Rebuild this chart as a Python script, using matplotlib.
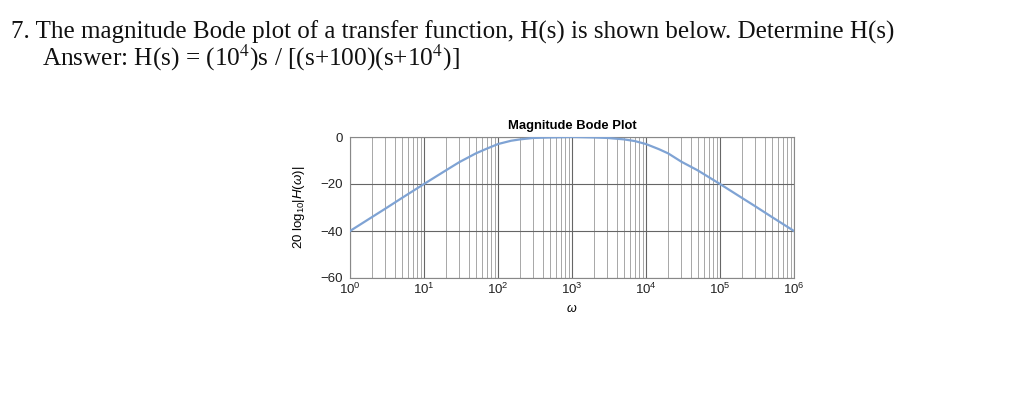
import matplotlib
matplotlib.use("Agg")
import matplotlib.pyplot as plt
from matplotlib.ticker import LogLocator, FixedLocator, NullFormatter

# Data
omega = [1, 2, 3, 5, 10, 20, 30, 50, 70, 100, 150, 200, 300, 500, 1000,
         2000, 3000, 5000, 7000, 10000, 15000, 20000, 30000, 50000,
         100000, 200000, 300000, 500000, 1000000]
mag_db = [-40, -34, -30.5, -26, -20, -14.1, -10.7, -7, -5, -3, -1.6, -1, -0.4, -0.2, 0,
          -0.2, -0.4, -1, -1.7, -3, -5.2, -7, -10.5, -14.2,
          -20, -26, -29.5, -34, -40]
yticks = [0, -20, -40, -60]
xticks = [1, 10, 100, 1000, 10000, 100000, 1000000]
xtick_labels = [r"$10^0$", r"$10^1$", r"$10^2$", r"$10^3$", r"$10^4$", r"$10^5$", r"$10^6$"]

line1 = "7. The magnitude Bode plot of a transfer function, H(s) is shown below. Determine H(s)"
line2 = "Answer: H(s) = (10$^4$)s / [(s+100)(s+10$^4$)]"

plt.rcParams['font.family'] = ['Liberation Sans', 'DejaVu Sans']
plt.rcParams['mathtext.fontset'] = 'custom'
plt.rcParams['mathtext.rm'] = 'Liberation Sans'
plt.rcParams['mathtext.it'] = 'Liberation Sans:italic'

fig = plt.figure(figsize=(10.24, 3.96), dpi=100)
fig.patch.set_facecolor('white')

fig.text(11/1024, 1-39/396, line1, family='Liberation Serif', fontsize=18, va='baseline', ha='left', color='#111111')
fig.text(42/1024, 1-66/396, line2, family='Liberation Serif', fontsize=18.2, va='baseline', ha='left', color='#111111',
         math_fontfamily='stix')

ax = fig.add_axes([350/1024, 1-278/396, (794-350)/1024, (278-137)/396])
ax.set_xscale('log')
ax.plot(omega, mag_db, color='#7fa3d4', lw=1.6, zorder=3)
ax.set_xlim(1, 1e6)
ax.set_ylim(-60, 0)
ax.xaxis.set_major_locator(FixedLocator(xticks))
ax.set_xticklabels(xtick_labels)
ax.xaxis.set_minor_locator(LogLocator(base=10, subs=range(2, 10), numticks=20))
ax.xaxis.set_minor_formatter(NullFormatter())
ax.set_yticks(yticks)
ax.set_yticklabels([("\u2212" + str(-v)) if v < 0 else str(v) for v in yticks])
ax.grid(True, which='major', axis='both', color='#666666', lw=0.8)
ax.grid(True, which='minor', axis='x', color='#999999', lw=0.6)
ax.tick_params(which='both', length=0, labelsize=9.5, colors='#222222')
ax.tick_params(axis='y', pad=5)
ax.tick_params(axis='x', pad=3)
for s in ax.spines.values():
    s.set_color('#888888')
    s.set_linewidth(0.8)
ax.set_title("Magnitude Bode Plot", fontsize=9.4, fontweight='bold', pad=6)
ax.set_xlabel(r"$\omega$", fontsize=9, labelpad=4)
ax.set_ylabel(r"20 log$_{10}$|$H$($\omega$)|", fontsize=9.5, labelpad=10)

fig.savefig("out.png", dpi=100)
